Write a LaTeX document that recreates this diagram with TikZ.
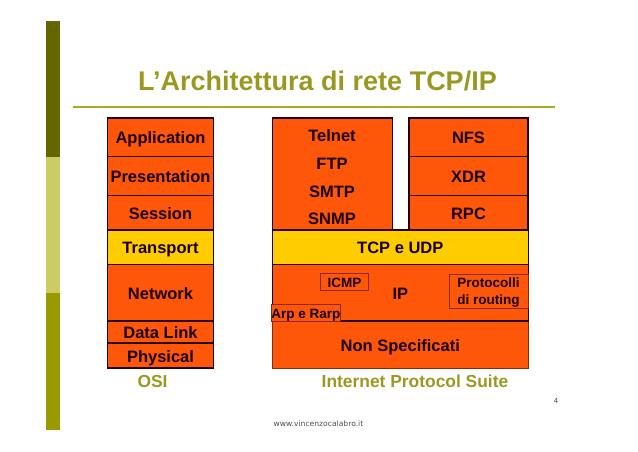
\documentclass[tikz,border=0pt]{standalone}
\usepackage{fontspec}
\setmainfont{Liberation Sans}
\newfontfamily\sitefont{DejaVu Sans}
\definecolor{barDark}{HTML}{666600}
\definecolor{barLight}{HTML}{CCCC66}
\definecolor{barMid}{HTML}{999900}
\definecolor{titleOlive}{HTML}{999922}
\definecolor{ruleOlive}{HTML}{AAAA22}
\definecolor{layerOrange}{HTML}{FF570A}
\definecolor{layerYellow}{HTML}{FFCC00}
\definecolor{innerLine}{HTML}{8A2A08}
\tikzset{
	layer/.style={draw=black!85!red,line width=1.3pt,fill=layerOrange,inner sep=0pt,text=black!90!red,
		font=\bfseries\fontsize{16.5}{18}\selectfont,text height=13pt,text depth=0pt},
	transport/.style={layer,fill=layerYellow},
	inner box/.style={draw=innerLine,line width=0.7pt,inner sep=0pt,text=black!90!red,
		font=\bfseries\fontsize{13.5}{17}\selectfont},
	proto/.style={inner sep=0pt,text=black!90!red,font=\bfseries\fontsize{16.5}{18}\selectfont,
		text height=13pt,text depth=0pt},
	caption/.style={inner sep=0pt,text=titleOlive,font=\bfseries\fontsize{17.4}{19}\selectfont},
}
\begin{document}
\begin{tikzpicture}[x=1pt,y=-1pt]
	\useasboundingbox (0,0) rectangle (638,451);

	% side bar
	\fill[barDark] (46,21) rectangle (60,157);
	\fill[barLight] (46,157) rectangle (60,293);
	\fill[barMid] (46,293) rectangle (60,430);

	\node[inner sep=0pt,text=titleOlive,font=\bfseries\fontsize{27}{30}\selectfont] (title) at (317.5,81) {L’Architettura di rete TCP/IP};
	\draw[ruleOlive,line width=1.1pt] (73,107) -- (555,107);

	% OSI
	\node[layer,minimum width=106pt,minimum height=38.7pt] (application) at (160.5,137.3) {Application};
	\node[layer,minimum width=106pt,minimum height=39pt] (presentation) at (160.5,176.2) {Presentation};
	\node[layer,minimum width=106pt,minimum height=34.3pt] (session) at (160.5,212.8) {Session};
	\node[transport,minimum width=106pt,minimum height=34.5pt] (transport) at (160.5,247.2) {Transport};
	\node[layer,minimum width=106pt,minimum height=56.5pt] (network) at (160.5,292.7) {Network};
	\node[layer,minimum width=106pt,minimum height=22pt] (datalink) at (160.5,332) {Data Link};
	\node[layer,minimum width=106pt,minimum height=25pt] (physical) at (160.5,355.5) {Physical};
	\node[caption] (osi) at (152.5,382) {OSI};

	% Internet
	\node[layer,minimum width=120pt,minimum height=112pt] (apps) at (332.5,174) {};
	\node[proto] (telnet) at (332,135) {Telnet};
	\node[proto] (ftp) at (332,162.5) {FTP};
	\node[proto] (smtp) at (332,190.5) {SMTP};
	\node[proto] (snmp) at (332,218) {SNMP};

	\node[layer,minimum width=119pt,minimum height=38.7pt] (nfs) at (468.5,137.3) {NFS};
	\node[layer,minimum width=119pt,minimum height=39pt] (xdr) at (468.5,176.2) {XDR};
	\node[layer,minimum width=119pt,minimum height=34.3pt] (rpc) at (468.5,212.8) {RPC};

	\node[layer,draw=innerLine,line width=0.9pt,minimum width=256pt,minimum height=47pt] (nonspec) at (400.3,344.5) {Non Specificati};
	\node[transport,minimum width=256pt,minimum height=34.5pt] (tcpudp) at (400.3,247.2) {TCP e UDP};
	\node[layer,minimum width=256pt,minimum height=56.5pt] (ip) at (400.3,292.7) {IP};

	\node[inner box,minimum width=48.5pt,minimum height=17pt,text height=11pt,text depth=0pt] (icmp) at (344.5,282.2) {ICMP};
	\node[inner box,minimum width=79pt,minimum height=34pt,align=center,text depth=0pt] (routing) at (488.5,291) {Protocolli\\di routing};
	\node[inner box,fill=layerOrange,minimum width=68pt,minimum height=17pt,text height=12pt,text depth=0pt] (arp) at (306,312.8) {Arp e Rarp};

	\node[caption] (ips) at (415,381.5) {Internet Protocol Suite};

	\node[inner sep=0pt,text=black!70,font=\sitefont\fontsize{7}{8}\selectfont] (page) at (556,401) {4};
	\node[inner sep=0pt,text=black!70,font=\sitefont\fontsize{7.6}{10}\selectfont] (site) at (318.5,424) {www.vincenzocalabro.it};
\end{tikzpicture}
\end{document}
